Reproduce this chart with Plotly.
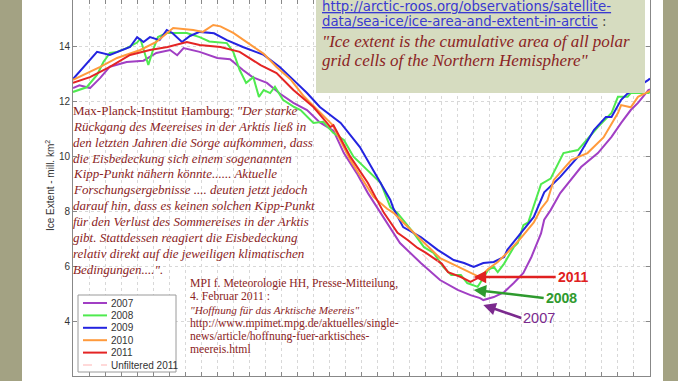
import plotly.graph_objects as go

W, H = 678, 381
L, R, T, B = 73, 650, 0, 376          # plot-area pixel box
Y_MIN, Y_MAX = 2, 2 + (B - T) / 27.42  # y range (top cut off as in reference)

# ---------------- data (day of year, ice extent in mill. km^2) ----------------
days_2007 = [0, 4, 10.6, 17, 23, 33.5, 44, 52, 60.6, 65, 69, 79, 90, 98, 106, 112, 121, 129,
             137.5, 146, 154, 162.5, 169, 177, 184, 192, 204, 217, 229, 240, 248, 254, 256,
             262.5, 269, 275, 281, 286, 292, 294, 298, 304, 311, 317, 327.5, 336, 342, 348,
             352.5, 359, 360]
ext_2007 = [12.5, 12.6, 12.5, 12.87, 13.28, 13.45, 13.5, 13.78, 13.89, 13.7, 13.96, 13.82,
            13.6, 13.55, 13.16, 12.9, 12.69, 12.3, 11.96, 11.7, 11.25, 10.95, 10.13, 9.4,
            8.67, 7.94, 6.85, 6.12, 5.5, 5.14, 4.95, 4.84, 4.77, 4.88, 5.06, 5.39, 5.76, 6.34,
            7.2, 7.7, 8.05, 8.67, 9.2, 9.62, 10.13, 10.72, 11.23, 11.7, 11.96, 12.43, 12.45]

days_2008 = [0, 8.5, 15, 19, 23, 27.5, 33.5, 40, 42, 44, 47, 50, 53, 58.5, 71, 79, 85, 96,
             100, 104, 108, 112.5, 116, 119, 123, 126, 131, 138, 142, 150, 156, 162.5, 169,
             175, 184, 192, 198, 202.5, 212.5, 219, 225, 231, 236, 242, 246, 252.5, 254, 259,
             262.5, 265, 269, 275, 277.5, 281, 284, 292, 298, 306, 315, 327.5, 336, 340, 346,
             348, 352.5, 359, 360]
ext_2008 = [12.36, 12.53, 12.98, 13.45, 13.78, 13.82, 13.96, 14.16, 14.3, 13.9, 13.34, 13.9,
            14.36, 14.51, 14.51, 14.36, 14.2, 14.14, 13.82, 13.16, 12.69, 12.9, 12.18, 12.43,
            12.32, 12.55, 12.07, 11.81, 11.7, 11.23, 11.27, 10.86, 10.61, 10.0, 9.51, 9.04,
            8.16, 7.94, 7.22, 6.7, 6.49, 5.98, 5.68, 5.68, 5.39, 5.25, 5.39, 5.87, 5.98, 5.79,
            6.1, 6.7, 6.85, 7.5, 7.6, 9.0, 9.2, 10.13, 10.24, 11.08, 11.59, 12.18, 12.18,
            12.32, 12.32, 12.32, 12.35]

days_2009 = [0, 15, 23, 35.6, 40, 44, 48, 54, 58.5, 62, 68, 73, 79, 88, 96, 106, 119, 129,
             137.5, 146, 154, 162.5, 167, 179, 192, 198, 200, 206, 217, 227.5, 237.5, 244,
             250, 256, 262.5, 269, 271, 279, 287.5, 294, 304, 315, 325, 332.5, 336, 342, 346,
             359, 360]
ext_2009 = [12.83, 13.82, 13.71, 14.0, 14.36, 14.18, 14.36, 14.25, 14.62, 14.51, 14.18, 14.4,
            14.55, 14.5, 14.25, 14.0, 13.71, 13.27, 12.8, 12.32, 11.81, 11.45, 11.23, 10.35,
            9.04, 8.42, 8.1, 7.43, 7.07, 6.6, 6.23, 6.12, 5.98, 6.12, 6.16, 6.34, 6.6, 7.2,
            7.8, 8.7, 9.26, 9.99, 10.97, 11.45, 11.45, 12.07, 12.3, 12.8, 12.85]

days_2010 = [0, 17, 27.5, 42, 52, 58.5, 62.5, 75, 81, 87.5, 92, 100, 108, 119, 127, 136, 144,
             152, 162, 173, 187.5, 196, 200, 206, 219, 229, 234, 244, 254, 259, 265, 271, 279,
             287.5, 292, 296, 300, 311, 321, 331, 340, 342, 348, 352.5, 359, 360]
ext_2010 = [12.8, 13.27, 13.6, 13.89, 14.18, 14.51, 14.69, 14.62, 14.55, 14.8, 14.75, 14.51,
            14.18, 13.75, 13.27, 12.8, 12.2, 11.75, 11.15, 9.88, 8.53, 8.1, 7.95, 7.6, 6.85,
            6.3, 6.16, 5.87, 5.6, 5.9, 6.16, 6.5, 7.0, 7.6, 8.1, 8.4, 9.15, 9.88, 10.13, 10.7,
            11.59, 11.88, 11.8, 12.18, 12.36, 12.4]

days_2011 = [0, 10.6, 23, 35.6, 48, 59, 71, 79, 92, 104, 117, 127, 137.5, 150, 160.6, 162.5,
             173, 184, 194, 202.5, 209, 215, 220, 225, 230, 234, 242, 248, 252.5]
ext_2011 = [12.69, 12.9, 13.27, 13.71, 13.89, 14.0, 14.18, 14.07, 14.0, 13.82, 13.34, 13.05,
            12.43, 11.81, 11.08, 11.15, 10.0, 9.04, 7.95, 7.22, 6.95, 6.67, 6.5, 6.3, 6.1,
            5.79, 5.61, 5.43, 5.57]

days_unf_2011 = [218, 223, 228]
ext_unf_2011 = [6.45, 6.16, 6.2]

series = [
    ("2007", days_2007, ext_2007, "#a13fc4"),
    ("2008", days_2008, ext_2008, "#4fea4f"),
    ("2009", days_2009, ext_2009, "#2424e0"),
    ("2010", days_2010, ext_2010, "#ff9a3c"),
    ("2011", days_2011, ext_2011, "#e42424"),
]
unf_label, unf_color = "Unfiltered 2011", "#ffb3b3"

y_ticks = [2, 4, 6, 8, 10, 12, 14]
y_title = "Ice Extent - mill. km<sup>2</sup>"

box_lines = [
    '<u>http://arctic-roos.org/observations/satellite-</u>',
    '<u>data/sea-ice/ice-area-and-extent-in-arctic</u><span style="color:#444"> :</span>',
]
quote_lines = [
    '"Ice extent is the cumulative area of all polar',
    'grid cells of the Northern Hemisphere"',
]
mpi_lines = [
    'Max-Planck-Institut Hamburg: <i>"Der starke</i>',
    '<i>Rückgang des Meereises in der Arktis ließ in</i>',
    '<i>den letzten Jahren die Sorge aufkommen, dass</i>',
    '<i>die Eisbedeckung sich einem sogenannten</i>',
    '<i>Kipp-Punkt nähern könnte...... Aktuelle</i>',
    '<i>Forschungsergebnisse .... deuten jetzt jedoch</i>',
    '<i>darauf hin, dass es keinen solchen Kipp-Punkt</i>',
    '<i>für den Verlust des Sommereises in der Arktis</i>',
    '<i>gibt. Stattdessen reagiert die Eisbedeckung</i>',
    '<i>relativ direkt auf die jeweiligen klimatischen</i>',
    '<i>Bedingungen....".</i>',
]
press_lines = [
    'MPI f. Meteorologie HH, Presse-Mitteilung,',
    '4. Februar 2011 :',
    '<i>"Hoffnung für das Arktische Meereis"</i>',
    'http://www.mpimet.mpg.de/aktuelles/single-',
    'news/article/hoffnung-fuer-arktisches-',
    'meereis.html',
]

# arrows: (label, target day, target extent, tail dx, tail dy, colour, bold)
arrows = [
    ("2011", 250, 5.61, 82, 0, "#e02020", True),
    ("2008", 250, 5.14, 70, 8, "#2e9a2e", True),
    ("2007", 256, 4.59, 38, 13, "#7b2a8e", False),
]

# ---------------- helpers (pixel -> paper) ----------------
def px(x):
    return (x - L) / (R - L)

def py(y):
    return (B - y) / (B - T)

DARKRED = "#8b2424"
SERIF = "Liberation Serif"
SANS = "Liberation Sans"

fig = go.Figure()
for name, d, v, c in series:
    fig.add_trace(go.Scatter(x=d, y=v, mode="lines", name=name,
                             line=dict(color=c, width=2), showlegend=False,
                             hoverinfo="skip"))
fig.add_trace(go.Scatter(x=days_unf_2011, y=ext_unf_2011, mode="lines", name=unf_label,
                         line=dict(color=unf_color, width=1, dash="dash"),
                         showlegend=False, hoverinfo="skip"))

shapes = []
annotations = []

# white page between olive side strips
shapes.append(dict(type="rect", xref="paper", yref="paper", layer="below",
                   x0=px(22), x1=px(663), y0=py(H + 5), y1=py(-5),
                   fillcolor="white", line=dict(width=0)))
# info box (top right)
shapes.append(dict(type="rect", xref="paper", yref="paper", layer="above",
                   x0=px(316), x1=px(645), y0=py(93), y1=py(-5),
                   fillcolor="#d6dcc0", line=dict(width=0)))

for i, t in enumerate(box_lines):
    annotations.append(dict(xref="paper", yref="paper", x=px(320), y=py(7 + 15 * i),
                            xanchor="left", yanchor="middle", showarrow=False, text=t,
                            font=dict(family="DejaVu Sans", size=13.3, color="#3a3ad0")))
for i, t in enumerate(quote_lines):
    annotations.append(dict(xref="paper", yref="paper", x=px(320), y=py(42 + 18.5 * i),
                            xanchor="left", yanchor="middle", showarrow=False,
                            text="<i>" + t + "</i>",
                            font=dict(family=SERIF, size=17, color=DARKRED)))
for i, t in enumerate(mpi_lines):
    annotations.append(dict(xref="paper", yref="paper", x=px(71), y=py(110.5 + 15.85 * i),
                            xanchor="left", yanchor="middle", showarrow=False, text=t,
                            font=dict(family=SERIF, size=13, color=DARKRED)))
for i, t in enumerate(press_lines):
    annotations.append(dict(xref="paper", yref="paper", x=px(188), y=py(283.3 + 13.3 * i),
                            xanchor="left", yanchor="middle", showarrow=False, text=t,
                            font=dict(family=SERIF, size=11.7 if i != 2 else 11.2,
                                      color=DARKRED)))

# y-axis title
annotations.append(dict(xref="paper", yref="paper", x=px(50), y=py(186),
                        xanchor="center", yanchor="middle", showarrow=False,
                        text=y_title, textangle=-90,
                        font=dict(family=SANS, size=10, color="#333333")))

# arrows with labels (label box left edge sits at the arrow tail)
for lab, dx_, vy, ax, ay, col, bold in arrows:
    annotations.append(dict(x=dx_, y=vy, xref="x", yref="y", ax=ax, ay=ay,
                            text=("<b>%s</b>" % lab) if bold else lab,
                            showarrow=True, arrowhead=2, arrowsize=1,
                            arrowwidth=2.5, arrowcolor=col,
                            xanchor="left", yanchor="middle",
                            font=dict(family=SANS, size=14 if bold else 14.5, color=col)))

# manual legend (compact, MATLAB style)
leg_items = [(n, c, "solid", 2) for n, _, _, c in series] + [(unf_label, unf_color, "dash", 1)]
shapes.append(dict(type="rect", xref="paper", yref="paper", layer="above",
                   x0=px(78), x1=px(176), y0=py(372), y1=py(295),
                   fillcolor="white", line=dict(color="#9a9a9a", width=1)))
for i, (n, c, dash, w) in enumerate(leg_items):
    yy = 303 + 12.4 * i
    shapes.append(dict(type="line", xref="paper", yref="paper", layer="above",
                       x0=px(83), x1=px(107), y0=py(yy), y1=py(yy),
                       line=dict(color=c, width=w, dash=dash)))
    annotations.append(dict(xref="paper", yref="paper", x=px(108.5), y=py(yy),
                            xanchor="left", yanchor="middle", showarrow=False, text=n,
                            font=dict(family=SANS, size=10, color="#333333")))

fig.update_layout(
    width=W, height=H,
    margin=dict(l=L, r=W - R, t=T, b=H - B, autoexpand=False),
    paper_bgcolor="#a3a283",
    plot_bgcolor="white",
    showlegend=False,
    shapes=shapes,
    annotations=annotations,
)
fig.update_xaxes(range=[0, 360], tickmode="linear", tick0=0, dtick=10,
                 showticklabels=False, ticks="inside", ticklen=4, tickcolor="#888",
                 showline=True, linecolor="#888", linewidth=1, mirror="ticks",
                 showgrid=True, gridcolor="#d8d8d8", griddash="dot", gridwidth=1,
                 zeroline=False, fixedrange=True)
fig.update_yaxes(range=[Y_MIN, Y_MAX], tickmode="array", tickvals=y_ticks,
                 ticktext=[str(t) for t in y_ticks], ticks="inside", ticklen=4,
                 tickcolor="#888", showline=True, linecolor="#888", linewidth=1,
                 mirror="ticks", showgrid=True, gridcolor="#d8d8d8", griddash="dot",
                 gridwidth=1, zeroline=False, fixedrange=True,
                 tickfont=dict(family=SANS, size=10, color="#333333"))

fig.write_html("out.html", config={"displayModeBar": False},
               post_script="document.body.style.margin='0px';"
                           "document.body.style.overflow='hidden';")
